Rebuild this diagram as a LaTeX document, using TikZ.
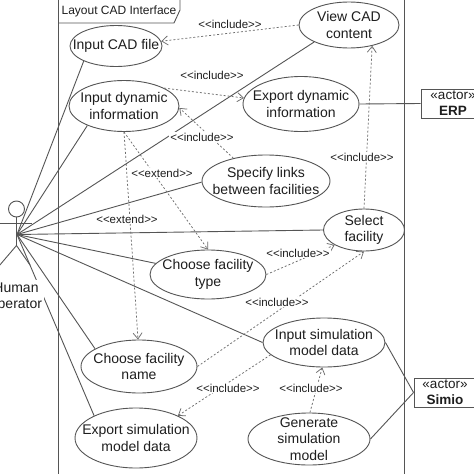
\documentclass[tikz,border=0pt]{standalone}
\usepackage{fontspec}
\setmainfont{Liberation Sans}
\usetikzlibrary{shapes.geometric,arrows.meta}
\definecolor{ln}{HTML}{555555}
\definecolor{tx}{HTML}{1E1E1E}
\tikzset{
  usecase/.style n args={3}{ellipse,draw=ln,line width=0.9pt,inner sep=0pt,minimum width=#1pt,minimum height=#2pt,
    label={[casetext]center:{#3}}},
  casetext/.style={font=\fontsize{14}{16.6}\selectfont,align=center,text=tx,inner sep=0pt},
  actorbox/.style={rectangle,draw=ln,line width=0.9pt,minimum width=#1,minimum height=29pt,inner sep=0pt},
  actorlabel/.style={font=\fontsize{13.5}{16}\selectfont,align=center,text=tx,inner sep=0pt},
  assoc/.style={draw=ln,line width=0.9pt},
  dep/.style={draw=ln!85,line width=0.75pt,dash pattern=on 2pt off 2pt,-{Straight Barb[length=6pt,width=9pt]}},
  deplabel/.style={font=\fontsize{11.5}{13}\selectfont,text=tx,fill=white,inner sep=1pt},
  framepen/.style={draw=ln,line width=0.9pt},
}
\begin{document}
\begin{tikzpicture}[x=1pt,y=-1pt]
\path[use as bounding box,fill=white] (0,0) rectangle (474,474);
\clip (0,0) rectangle (474,474);
% frame
\draw[framepen] (58,-5) -- (58,480);
\draw[framepen] (404.5,-5) -- (404.5,480);
\draw[framepen] (58,23) -- (174,23) -- (180,10) -- (180,-5);
\node[font=\fontsize{12}{14}\selectfont,text=tx,inner sep=0pt] (title) at (119,11) {Layout CAD Interface};
% use cases
\node[usecase={92}{41}{Input CAD file}] (cad) at (116,46) {};
\node[usecase={110}{51}{Input dynamic\\information}] (dyn) at (124,106) {};
\node[usecase={100}{46}{View CAD\\content}] (view) at (349,25) {};
\node[usecase={116}{55}{Export dynamic\\information}] (exp) at (301,104) {};
\node[usecase={128}{52}{Specify links\\between facilities}] (spec) at (266,181) {};
\node[usecase={81}{42}{Select\\facility}] (sel) at (364,230) {};
\node[usecase={116}{49}{Choose facility\\type}] (type) at (208,274.5) {};
\node[usecase={116}{53}{Choose facility\\name}] (name) at (139,366.5) {};
\node[usecase={122}{60}{Export simulation\\model data}] (esim) at (136,438) {};
\node[usecase={122}{49}{Input simulation\\model data}] (isim) at (324,342.5) {};
\node[usecase={122}{52}{Generate\\simulation\\model}] (gen) at (309,439) {};
% actors
\node[actorbox=64pt] (erp) at (453,103.5) {};
\node[actorbox=62pt] (simio) at (445,392.5) {};
\node[actorlabel] (erpt) at (453,103.5) {«actor»\\\textbf{ERP}};
\node[actorlabel] (simiot) at (445,392.5) {«actor»\\\textbf{Simio}};
% stick figure
\node[circle,draw=ln,line width=0.9pt,minimum size=16pt,inner sep=0pt] (head) at (16.5,209) {};
\coordinate (hub) at (17,234.5);
\coordinate (crotch) at (16.5,245.5);
\coordinate (armL) at (-2,223);
\coordinate (armR) at (32,223);
\coordinate (legL) at (-1,266);
\coordinate (legR) at (30,265);
\draw[assoc] (head) -- (crotch);
\draw[assoc] (armL) -- (armR);
\draw[assoc] (legL) -- (crotch) -- (legR);
% associations
\foreach \t/\a in {cad/205,dyn/208,view/206,spec/181,sel/180,type/168,isim/180,name/158,esim/152}
  \draw[assoc] (hub) -- (\t.\a);
\draw[assoc] (exp.east) -- (erp.west);
\draw[assoc] (isim.east) -- (simio.west);
\draw[assoc] (gen.east) -- (simio.west);
% dependencies
\draw[dep] (view.180) -- (cad.6);
\draw[dep] (dyn.24) -- (exp.174);
\draw[dep] (spec.145) -- (dyn.358);
\draw[dep] (dyn.270) -- (name.92);
\draw[dep] (dyn.270) -- (type.90);
\draw[dep] (type.0) -- (sel.207);
\draw[dep] (name.0) -- (sel.270);
\draw[dep] (isim.193) -- (esim.28);
\draw[dep] (gen.88) -- (isim.266);
\draw[dep] (sel.90) -- (view.318);
% dependency labels
\node[deplabel] (l1) at (230,24) {<{}<include>{}>};
\node[deplabel] (l2) at (212,75) {<{}<include>{}>};
\node[deplabel] (l3) at (202,137) {<{}<include>{}>};
\node[deplabel] (l4) at (162,173) {<{}<extend>{}>};
\node[deplabel] (l5) at (127,219) {<{}<extend>{}>};
\node[deplabel] (l6) at (362,157) {<{}<include>{}>};
\node[deplabel] (l7) at (298,253) {<{}<include>{}>};
\node[deplabel] (l8) at (277,302) {<{}<include>{}>};
\node[deplabel] (l9) at (228,388) {<{}<include>{}>};
\node[deplabel] (l10) at (311,388) {<{}<include>{}>};
% human label
\node[casetext,fill=white,inner sep=2pt] (human) at (16,297) {Human\\operator};
\end{tikzpicture}
\end{document}
